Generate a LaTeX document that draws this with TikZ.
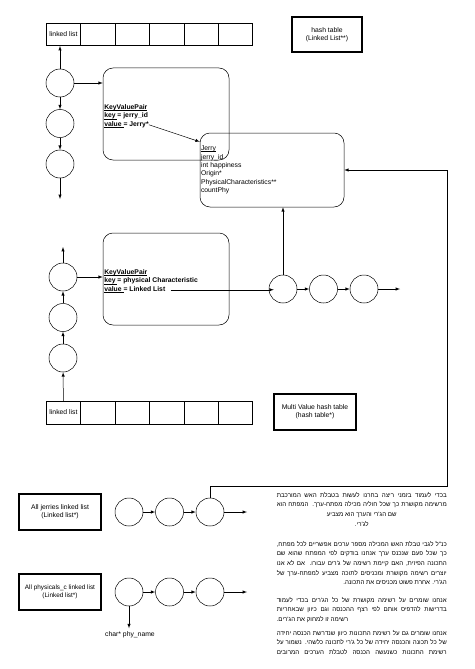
\documentclass[tikz,border=0pt]{standalone}
\usepackage{fontspec}
\setmainfont{Liberation Sans}
\newfontfamily\hebfont[Script=Hebrew]{Liberation Sans}
\TeXXeTstate=1
\usepackage{tikz}
\usetikzlibrary{positioning}
\usetikzlibrary{arrows}
\usetikzlibrary{math}
\usetikzlibrary{calc}

% underline that sits close to the baseline
\newcommand{\undl}[1]{\setbox0\hbox{#1}\rlap{\rule[-0.9pt]{\wd0}{0.35pt}}\box0}

% one line of the hebrew notes, spread / centred / right / left
\newcommand{\heb}[1]{\hbox to 170pt{\beginR #1\endR}}
\newcommand{\hebc}[1]{\hbox to 170pt{\hfil\beginR #1\endR\hfil}}
\newcommand{\hebr}[1]{\hbox to 170pt{\hfil\beginR #1\endR}}
\newcommand{\hebl}[1]{\hbox to 170pt{\beginR #1\endR\hfil}}

\begin{document}
\begin{tikzpicture}[x=1pt,y=-1pt,line width=0.5pt,>=latex,
  every node/.style={font=\fontsize{6.8}{8.2}\selectfont},
  cell/.style={draw, minimum width=\cellw, minimum height=\cellh, inner sep=0pt, anchor=north west},
  elem/.style={draw, circle, minimum size=\elemsize, inner sep=0pt},
  pairbox/.style={draw, rounded corners=10pt, minimum width=126pt, minimum height=92pt},
  title/.style={draw, line width=2.2pt, align=center, inner sep=1pt, minimum width=82pt, minimum height=36pt},
  field/.style={inner sep=0pt, text height=6pt, text depth=2.2pt, font=\bfseries\fontsize{6.8}{8.2}\selectfont},
  notes/.style={inner sep=0pt, anchor=north east, align=right, font=\hebfont\fontsize{6.2}{9.6}\selectfont}
]

  \tikzmath{
    \cellw    = 34.4; % width of one array cell
    \cellh    = 22.5; % height of one array cell
    \elemsize = 28;   % diameter of a list element
    \elemgap  = 12;   % space between two list elements
  }

  \useasboundingbox (0,0) rectangle (474,669);

  % hash table array on top
  \node[cell] (top0) at (46,23) {linked list};
  \foreach \i in {1,...,5}
    \node[cell] (top\i) at ({46+\i*\cellw},23) {};

  \node[title, minimum width=70pt, minimum height=35pt] (hash) at (327,34.5)
    {hash table\\(Linked List**)};

  % chain under the top array
  \node[elem] (la1) at (60,83) {};
  \node[elem, below=\elemgap pt of la1] (la2) {};
  \node[elem, below=\elemgap pt of la2] (la3) {};
  \coordinate (laend) at (60,199);

  \draw[->] (la1) -- (la1 |- top0.south);
  \draw[->] (la1) -- (la2);
  \draw[->] (la2) -- (la3);
  \draw[->] (la3) -- (laend);

  % key value pair of a jerry
  \node[pairbox] (kvpA) at (166,114) {};
  \node[field, anchor=north west] (kvpAhead) at (104,103) {\undl{KeyValuePair}};
  \node[field, below=0pt of kvpAhead.south west, anchor=north west] (kvpAkey)
    {\undl{key }= jerry\_id};
  \node[field, below=0pt of kvpAkey.south west, anchor=north west] (kvpAval)
    {\undl{value }= Jerry*};

  \draw[->] (la1) -- (la1 -| kvpA.west);

  % the jerry itself
  \node[pairbox, minimum width=144pt, minimum height=74pt, text width=142pt,
        inner xsep=1pt, align=left, font=\fontsize{6.8}{8.3}\selectfont] (jerry) at (272,170)
    {\undl{Jerry}\\jerry\_id\\int happiness\\Origin*\\PhysicalCharacteristics**\\countPhy};

  \draw[->] (kvpAval.east) -- ([yshift=-9pt]jerry.north west);

  % key value pair of a characteristic
  \node[pairbox] (kvpB) at (166,279) {};
  \node[field, anchor=north west] (kvpBhead) at (104,268) {\undl{KeyValuePair}};
  \node[field, below=0pt of kvpBhead.south west, anchor=north west] (kvpBkey)
    {\undl{key }= physical Characteristic};
  \node[field, below=0pt of kvpBkey.south west, anchor=north west] (kvpBval)
    {\undl{value }= Linked List};

  % chain above the lower array
  \node[elem] (lb1) at (63,277) {};
  \node[elem, below=\elemgap pt of lb1] (lb2) {};
  \node[elem, below=\elemgap pt of lb2] (lb3) {};
  \coordinate (lbend) at (63,247);

  \draw[->] (lb1) -- (lbend);
  \draw[->] (lb2) -- (lb1);
  \draw[->] (lb3) -- (lb2);
  \draw[->] (lb1) -- (lb1 -| kvpB.west);

  % list of jerries held by the characteristic
  \node[elem] (rc1) at (283,289) {};
  \node[elem, right=\elemgap pt of rc1] (rc2) {};
  \node[elem, right=\elemgap pt of rc2] (rc3) {};
  \coordinate (rcend) at (400,289);

  \draw[->] ([xshift=5pt]kvpBval.east) -- ([xshift=5pt]kvpBval.east -| rc1.west);
  \draw[->] (rc1) -- (rc2);
  \draw[->] (rc2) -- (rc3);
  \draw[->] (rc3) -- (rcend);
  \draw[->] (rc1) -- (rc1 |- jerry.south);

  % multi value hash table array
  \node[cell] (bot0) at (46,401) {linked list};
  \foreach \i in {1,...,5}
    \node[cell] (bot\i) at ({46+\i*\cellw},401) {};

  \draw[->] (bot0) -- (lb3);

  \node[title, minimum width=82pt, minimum height=36pt] (multi) at (315,412)
    {Multi Value hash table\\(hash table*)};

  % all jerries
  \node[title] (alljer) at (60,512) {All jerries linked list\\(Linked list*)};
  \node[elem] (jc1) at (129,512) {};
  \node[elem, right=\elemgap pt of jc1] (jc2) {};
  \node[elem, right=\elemgap pt of jc2] (jc3) {};
  \coordinate (jcend) at (247,512);
  \coordinate (bend) at (447,486);

  \draw[->] (jc1) -- (jc2);
  \draw[->] (jc2) -- (jc3);
  \draw[->] (jc3) -- (jcend);
  \draw[->] (jc3.north) |- (bend) |- (jerry.east);

  % all physicals
  \node[title, font=\fontsize{6.4}{8.2}\selectfont] (allphy) at (60,592)
    {All physicals\_c linked list\\(Linked list*)};
  \node[elem] (pc1) at (129,592) {};
  \node[elem, right=\elemgap pt of pc1] (pc2) {};
  \node[elem, right=\elemgap pt of pc2] (pc3) {};
  \coordinate (pcend) at (247,592);
  \node (phy) at (130,635) {char* phy\_name};

  \draw[->] (pc1) -- (pc2);
  \draw[->] (pc2) -- (pc3);
  \draw[->] (pc3) -- (pcend);
  \draw[->] (pc1) -- (pc1 |- phy.north);

  % notes
  \node[notes] (noteA) at (447,492)
    {\heb{בכדי לעמוד בזמני ריצה בחרנו לעשות בטבלת האש המורכבת}\\
     \heb{מרשימה מקושרת כך שכל חוליה מכילה מפתח-ערך. המפתח הוא}\\
     \hebc{שם הג'רי והערך הוא מצביע}\\
     \hebc{לג'רי.}};
  \node[notes] (noteB) at (447,541)
    {\heb{כנ"ל לגבי טבלת האש המכילה מספר ערכים אפשריים לכל מפתח,}\\
     \heb{כך שכל פעם שנכנס ערך אנחנו בודקים לפי המפתח שהוא שם}\\
     \heb{התכונה הפיזית, האם קיימת רשימה של ג'רים עבורו. אם לא אנו}\\
     \heb{יוצרים רשימה מקושרת ומכניסים לתוכה מצביע למפתח-ערך של}\\
     \hebr{הג'רי. אחרת פשוט מכניסים את התכונה.}};
  \node[notes] (noteC) at (447,597)
    {\heb{אנחנו שומרים על רשימה מקושרת של כל הג'רים בכדי לעמוד}\\
     \heb{בדרישות להדפיס אותם לפי רצף ההכנסה וגם כיוון שבאחריות}\\
     \hebl{רשימה זו למחוק את הג'רים.}};
  \node[notes] (noteD) at (447,630)
    {\heb{אנחנו שומרים גם על רשימת התכונות כיוון שנדרשת הכנסה יחידה}\\
     \heb{של כל תכונה והכנסה יחידה של כל ג'רי לתכונה כלשהי. נשמור על}\\
     \heb{רשימת התכונות כשנעשה הכנסה לטבלת הערכים המרובים}};

\end{tikzpicture}
\end{document}
